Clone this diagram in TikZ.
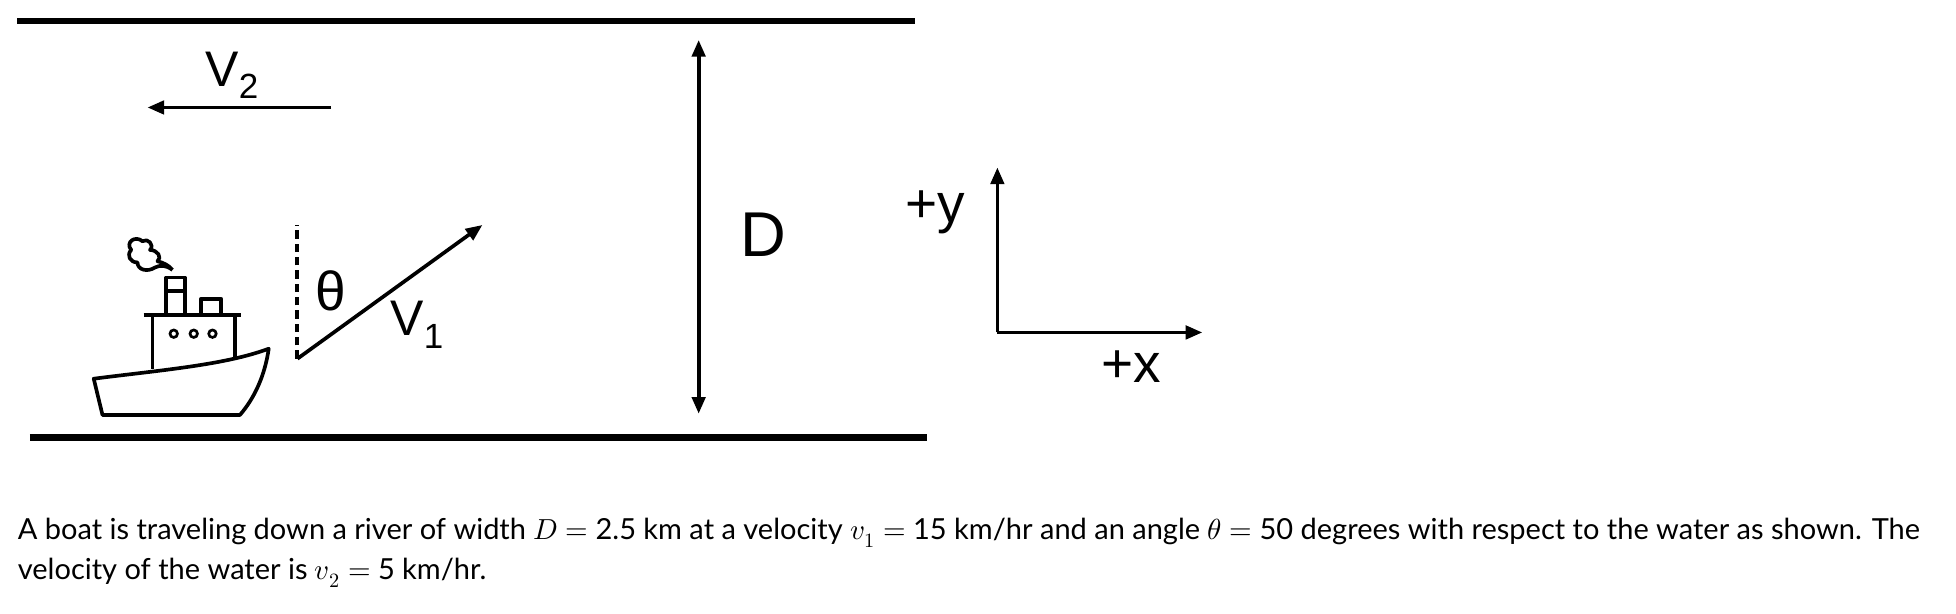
\documentclass[tikz,border=0pt]{standalone}
\usepackage{fontspec}
\usepackage{unicode-math}
\setmainfont{Lato}
\newfontfamily\arial{Liberation Sans}
\usetikzlibrary{arrows.meta}
\begin{document}
\begin{tikzpicture}[x=0.75pt,y=-0.75pt,
  bank/.style={line width=3.8pt},
  vec/.style={line width=2.2pt,-{Triangle[length=10pt,width=8pt]}},
  boatline/.style={line width=2.2pt,line join=round},
  lbl/.style={font=\arial\fontsize{30}{30}\selectfont,inner sep=0}]
\useasboundingbox (0,0) rectangle (1565,491);
\coordinate (t1) at (14,17); \coordinate (t2) at (732,17);
\coordinate (b1) at (24,350); \coordinate (b2) at (742,350);
\draw[bank] (t1)--(t2); \draw[bank] (b1)--(b2);
% v2
\coordinate (v2s) at (265,86); \coordinate (v2e) at (118,86);
\draw[vec] (v2s)--(v2e);
\node[lbl] (v2l) at (186,60) {V\textsubscript{2}};
% D
\coordinate (dt) at (559,32); \coordinate (db) at (559,331);
\draw[line width=2.2pt,{Triangle[length=10pt,width=8pt]}-{Triangle[length=10pt,width=8pt]}] (dt)--(db);
\node[lbl,font=\arial\fontsize{38}{38}\selectfont] (dl) at (611,188) {D};
% axes
\coordinate (o) at (798,266); \coordinate (ay) at (798,134); \coordinate (ax) at (962,266);
\draw[vec] (o)--(ay); \draw[vec] (o)--(ax);
\node[lbl,font=\arial\fontsize{33}{33}\selectfont] (yl) at (748,170) {+y};
\node[lbl,font=\arial\fontsize{33}{33}\selectfont] (xl) at (905,293) {+x};
% v1
\coordinate (p) at (238,287); \coordinate (pt) at (238,180); \coordinate (v1e) at (386,180);
\draw[line width=2.4pt,dash pattern=on 5pt off 3pt] (p)--(pt);
\draw[vec,line join=round] (p)--(v1e);
\node[lbl,font=\arial\fontsize{33}{33}\selectfont] (th) at (265,233) {θ};
\node[lbl] (v1l) at (334,260) {V\textsubscript{1}};
% boat
\draw[boatline] (75,303) .. controls (130,296) and (180,292) .. (215,279)
  .. controls (212,300) and (204,318) .. (192,332) -- (82,332) -- cycle;
\draw[boatline] (122,295)--(122,252); \draw[boatline] (188,287)--(188,252);
\draw[boatline] (115,252)--(193,252);
\draw[boatline] (133,252) rectangle (148,222); \draw[boatline] (133,233)--(148,233);
\draw[boatline] (161,252) rectangle (177,239);
\foreach \xx in {139,155,170} \draw[line width=1.6pt] (\xx,267) circle (3);
\draw[boatline] (138,216) .. controls (133,212) and (128,212) .. (124,214)
  .. controls (118,218) and (110,216) .. (110,210)
  .. controls (104,210) and (101,204) .. (105,200)
  .. controls (100,194) and (108,188) .. (114,193)
  .. controls (118,190) and (124,196) .. (120,200)
  .. controls (126,200) and (130,206) .. (126,209)
  .. controls (130,210) and (135,212) .. (138,216);
% caption
\node[anchor=base west,inner sep=0,font=\fontsize{17.4}{24}\selectfont] (c1) at (14,432)
 {A boat is traveling down a river of width $D=$ 2.5 km at a velocity $v_1=$ 15 km/hr and an angle $\theta=$ 50 degrees with respect to the water as shown. The};
\node[anchor=base west,inner sep=0,font=\fontsize{17.4}{24}\selectfont] (c2) at (14,464)
 {velocity of the water is $v_2=$ 5 km/hr.};
\end{tikzpicture}
\end{document}
